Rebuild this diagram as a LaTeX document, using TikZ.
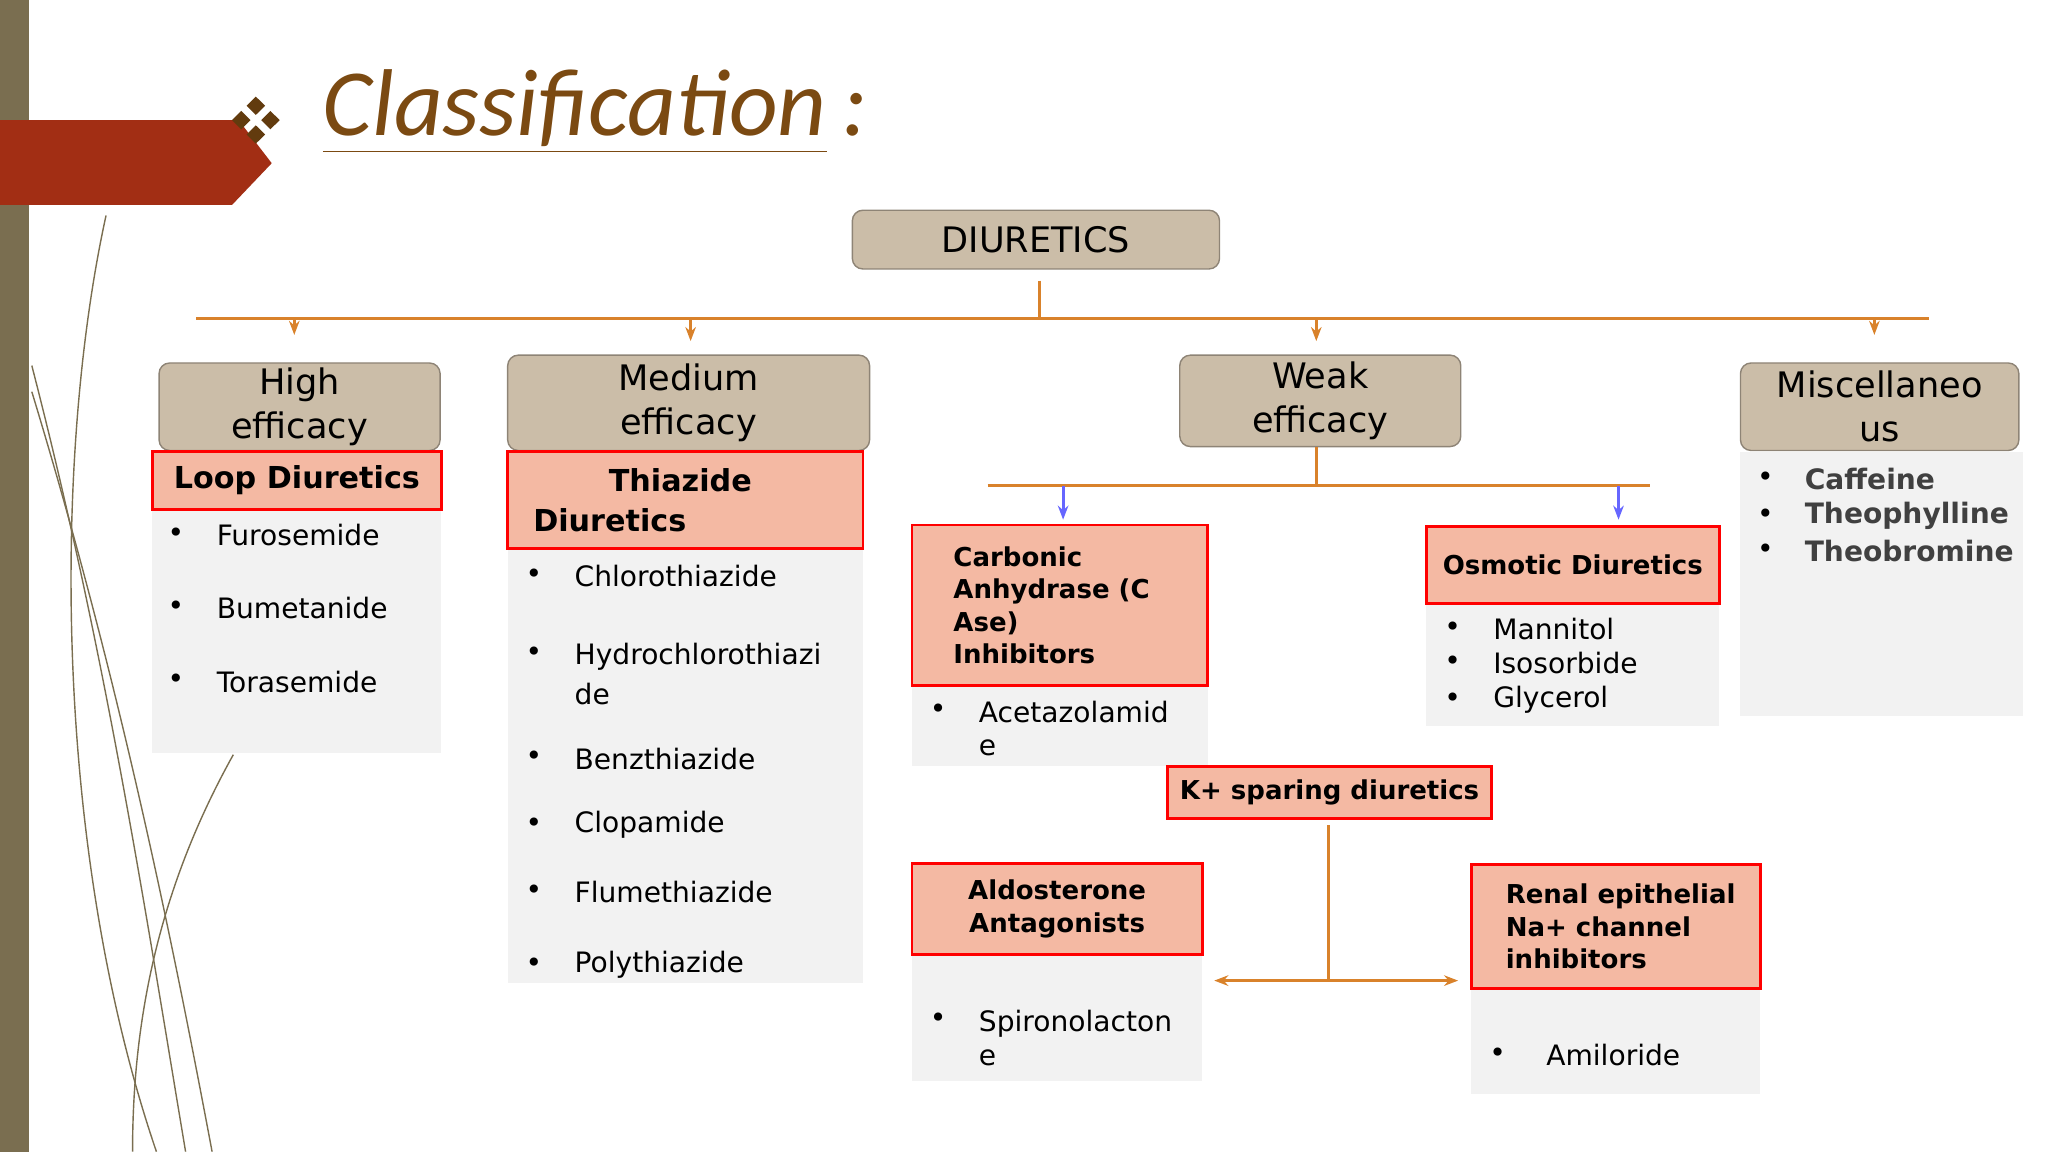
\documentclass[tikz,border=0pt]{standalone}
\usepackage{fontspec}
\setmainfont{DejaVu Sans}
\newfontfamily\titlefont{Carlito}
\usetikzlibrary{fit,arrows.meta}
\definecolor{olive}{HTML}{7A6E50}
\definecolor{rust}{HTML}{A22E14}
\definecolor{tan}{HTML}{CBBDA8}
\definecolor{salmon}{HTML}{F4B9A3}
\definecolor{panel}{HTML}{F2F2F2}
\definecolor{wire}{HTML}{D9822B}
\definecolor{brownish}{HTML}{7B4A12}
\begin{document}
\begin{tikzpicture}[x=0.013256cm,y=-0.013061cm]
	\tikzstyle{head} = [fit={#1}, inner sep=0, fill=tan, draw=tan!70!black, rounded corners=3pt]
	\tikzstyle{headtxt} = [align=center, inner sep=0, font=\fontsize{10}{12.5}\selectfont]
	\tikzstyle{group} = [fit={#1}, inner sep=0, fill=salmon, draw=red, thick]
	\tikzstyle{grouptxt} = [align=center, inner sep=0, font=\bfseries\fontsize{7.4}{9.2}\selectfont]
	\tikzstyle{panel} = [fit={#1}, inner sep=0, fill=panel]
	\tikzstyle{item} = [anchor=west, inner sep=0, font=\fontsize{8}{9.6}\selectfont]
	\tikzstyle{wire} = [draw=wire, thick]
	\tikzstyle{arr} = [wire, -{Stealth[length=4pt]}]

	\useasboundingbox (0,0) rectangle (1545,882);
%----------frame and title------------------------------
	\fill[olive] (0,0) rectangle (22,882);
	\fill[rust] (0,92) -- (180,92) -- (205,125) -- (175,157) -- (0,157) -- cycle;
	\foreach \dx/\dy in {0/-11,11/0,0/11,-11/0}
		\fill[brownish!80!black] (193+\dx,92+\dy) ++(0,-7) -- ++(7,7) -- ++(-7,7) -- ++(-7,-7) -- cycle;
	\node[anchor=south west, inner sep=0, text=brownish, font=\titlefont\itshape\fontsize{27}{30}\selectfont] (title) at (243,118) {\underline{Classification}\,:};
	\draw[olive, thin] (80,165) .. controls (40,350) and (40,650) .. (118,882);
	\draw[olive, thin] (24,280) .. controls (80,500) and (110,700) .. (140,882);
	\draw[olive, thin] (24,300) .. controls (90,520) and (130,720) .. (160,882);
	\draw[olive, thin] (176,578) .. controls (120,680) and (100,780) .. (100,882);

%----------top level------------------------------
	\node[head={(643,161)(920,206)}] (diu) {};
	\node[headtxt] at (diu) {DIURETICS};
	\coordinate (busl) at (148,244);
	\coordinate (busr) at (1455,244);
	\draw[wire] (busl) -- (busr);
	\draw[wire] (784,215) -- (784,244);

%----------high------------------------------
	\node[head={(120,278)(332,345)}] (high) {};
	\node[headtxt] at (high) {High\\efficacy};
	\node[group={(115,346)(333,390)}] (loop) {};
	\node[grouptxt, font=\bfseries\fontsize{8.6}{10}\selectfont] at (loop) {Loop Diuretics};
	\node[panel={(115,391)(333,577)}] (highp) {};
	\foreach \y/\t in {410/Furosemide,466/Bumetanide,522/Torasemide}{
		\node[item] at (126,\y) {•};
		\node[item] at (163,\y) {\t};
	}
	\draw[arr, shorten >=8pt] (222,244) -- (222,278);

%----------medium------------------------------
	\node[head={(383,272)(656,345)}] (med) {};
	\node[headtxt] at (med) {Medium\\efficacy};
	\node[group={(383,346)(651,420)}] (thia) {};
	\node[grouptxt, font=\bfseries\fontsize{8.6}{11.5}\selectfont, align=left] at (thia) {\hspace*{2.5em}Thiazide\\Diuretics\hspace*{5em}};
	\node[panel={(383,421)(651,753)}] (medp) {};
	\foreach \y/\t in {441/Chlorothiazide,516/{Hydrochlorothiazi\\de},581/Benzthiazide,632/Clopamide,683/Flumethiazide,739/Polythiazide}{
		\node[item, align=left, font=\fontsize{8}{11.5}\selectfont] at (433,\y) {\t};
	}
	\foreach \y in {441,501,581,632,683,739}
		\node[item] at (396,\y) {•};
	\draw[arr, shorten >=4pt] (521,244) -- (521,272);

%----------weak------------------------------
	\node[head={(890,272)(1102,342)}] (weak) {};
	\node[headtxt] at (weak) {Weak\\efficacy};
	\draw[arr, shorten >=4pt] (993,244) -- (993,272);
	\draw[wire] (993,342) -- (993,372);
	\draw[wire] (745,372) -- (1245,372);
	\node[group={(688,402)(911,525)}] (cai) {};
	\node[grouptxt, align=left, anchor=west] at (cai.west) [xshift=12pt] {Carbonic\\Anhydrase (C\\Ase)\\Inhibitors};
	\node[panel={(688,526)(911,587)}] (caip) {};
	\node[item] at (701,545) {•};
	\node[item, align=left] at (738,558) {Acetazolamid\\e};
	\node[group={(1076,403)(1297,462)}] (osm) {};
	\node[grouptxt] at (osm) {Osmotic Diuretics};
	\node[panel={(1076,463)(1297,556)}] (osmp) {};
	\foreach \y/\t in {482/Mannitol,508/Isosorbide,536/Glycerol}{
		\node[item] at (1089,\y) {•};
		\node[item] at (1126,\y) {\t};
	}
	\draw[-{Stealth[length=4pt]}, thick, blue!60] (802,372) -- (802,398);
	\draw[-{Stealth[length=4pt]}, thick, blue!60] (1221,372) -- (1221,398);

%----------misc------------------------------
	\node[head={(1313,278)(1523,345)}] (misc) {};
	\node[headtxt] at (misc) {Miscellaneo\\us};
	\node[panel={(1313,346)(1526,548)}] (miscp) {};
	\foreach \y/\t in {367/Caffeine,395/Theophylline,422/Theobromine}{
		\node[item] at (1325,\y) {•};
		\node[item, font=\bfseries\fontsize{8}{10}\selectfont, text=black!75] at (1361,\y) {\t};
	}
	\draw[arr, shorten >=8pt] (1414,244) -- (1414,278);

%----------K+ sparing------------------------------
	\node[group={(881,587)(1125,627)}] (kspar) {};
	\node[grouptxt] at (kspar) {K+ sparing diuretics};
	\coordinate (kfoot) at (1002,751);
	\coordinate (kl) at (916,751);
	\coordinate (kr) at (1100,751);
	\draw[wire] (1002,632) -- (kfoot);
	\draw[wire, {Stealth[length=4pt]}-{Stealth[length=4pt]}] (kl) -- (kr);
	\node[group={(688,661)(907,731)}] (ald) {};
	\node[grouptxt] at (ald) {Aldosterone\\Antagonists};
	\node[panel={(688,732)(907,828)}] (aldp) {};
	\node[item] at (701,781) {•};
	\node[item, align=left] at (738,795) {Spironolacton\\e};
	\node[group={(1110,662)(1328,757)}] (renal) {};
	\node[grouptxt, align=left, anchor=west] at (renal.west) [xshift=10pt] {Renal epithelial\\Na+ channel\\inhibitors};
	\node[panel={(1110,758)(1328,838)}] (renp) {};
	\node[item] at (1123,808) {•};
	\node[item] at (1166,808) {Amiloride};
\end{tikzpicture}
\end{document}
